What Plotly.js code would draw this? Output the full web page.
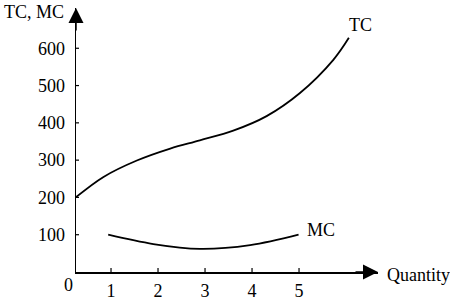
<!DOCTYPE html>
<html>
<head>
<meta charset="utf-8">
<script src="https://cdn.plot.ly/plotly-3.0.1.min.js"></script>
<style>html,body{margin:0;padding:0;background:#fff;}#chart{width:450px;height:302px;}</style>
</head>
<body>
<div id="chart"></div>
<script>
// Data
var tcQuantity = [0.25, 0.84, 1.55, 2.26, 2.89, 3.60, 4.31, 5.02, 5.73, 6.06];
var tcValues   = [200, 255, 299, 331, 353, 379, 418, 480, 569, 628];
var mcQuantity = [0.94, 1.9, 2.89, 3.96, 4.99];
var mcValues   = [100, 75, 62, 72, 100];
var xTicks = [1, 2, 3, 4, 5];
var yTicks = [100, 200, 300, 400, 500, 600];

var xRange = [0.255, 6.68];
var yRange = [0, 708];
var serif = "Times New Roman, Liberation Serif, Times, serif";
var fontSpec = {family: serif, size: 18, color: '#000'};

var traces = [
  {x: tcQuantity, y: tcValues, mode: 'lines', line: {shape: 'spline', smoothing: 1, color: '#000', width: 1.8}, hoverinfo: 'skip'},
  {x: mcQuantity, y: mcValues, mode: 'lines', line: {shape: 'spline', smoothing: 1, color: '#000', width: 1.8}, hoverinfo: 'skip'}
];

// crossing tick marks built from the tick arrays
var tickShapes = [];
xTicks.forEach(function (t) {
  tickShapes.push({type: 'line', xref: 'x', yref: 'y', x0: t, x1: t, ysizemode: 'pixel', yanchor: 0,
    y0: -5, y1: 4, line: {color: '#000', width: 1.2}});
});
yTicks.forEach(function (t) {
  tickShapes.push({type: 'line', xref: 'x', yref: 'y', y0: t, y1: t, xsizemode: 'pixel', xanchor: xRange[0],
    x0: -6, x1: 3, line: {color: '#000', width: 1.2}});
});

var axisCommon = {showgrid: false, zeroline: false, showline: true, linecolor: '#000', linewidth: 1.5,
  ticks: '', fixedrange: true, tickfont: fontSpec};

var layout = {
  width: 450, height: 302,
  margin: {l: 76, r: 72, t: 8, b: 30},
  paper_bgcolor: '#fff', plot_bgcolor: '#fff',
  showlegend: false,
  font: fontSpec,
  xaxis: Object.assign({}, axisCommon, {range: xRange, tickvals: xTicks, ticktext: xTicks.map(String), ticklabelstandoff: 2}),
  yaxis: Object.assign({}, axisCommon, {range: yRange, tickvals: yTicks, ticktext: yTicks.map(String), ticklabelstandoff: 6}),
  shapes: tickShapes,
  annotations: [
    {x: 1, y: 0, xref: 'paper', yref: 'paper', ax: -24, ay: 0, axref: 'pixel', ayref: 'pixel',
     showarrow: true, arrowhead: 2, arrowsize: 2, arrowwidth: 1.5, arrowcolor: '#000', text: ''},
    {x: 0, y: 1, xref: 'paper', yref: 'paper', ax: 0, ay: 24,
     showarrow: true, arrowhead: 2, arrowsize: 2, arrowwidth: 1.5, arrowcolor: '#000', text: ''},
    {x: 1.023, y: -0.01, xref: 'paper', yref: 'paper', xanchor: 'left', yanchor: 'middle', showarrow: false,
     text: 'Quantity', font: fontSpec},
    {x: -0.245, y: 0.985, xref: 'paper', yref: 'paper', xanchor: 'left', yanchor: 'middle', showarrow: false,
     text: 'TC, MC', font: fontSpec},
    {x: -0.026, y: -0.049, xref: 'paper', yref: 'paper', xanchor: 'center', yanchor: 'middle', showarrow: false,
     text: '0', font: fontSpec},
    {x: 6.30, y: 662, xref: 'x', yref: 'y', xanchor: 'center', yanchor: 'middle', showarrow: false,
     text: 'TC', font: fontSpec},
    {x: 5.47, y: 113, xref: 'x', yref: 'y', xanchor: 'center', yanchor: 'middle', showarrow: false,
     text: 'MC', font: fontSpec}
  ]
};

Plotly.newPlot('chart', traces, layout, {displayModeBar: false, staticPlot: true});
</script>
</body>
</html>
